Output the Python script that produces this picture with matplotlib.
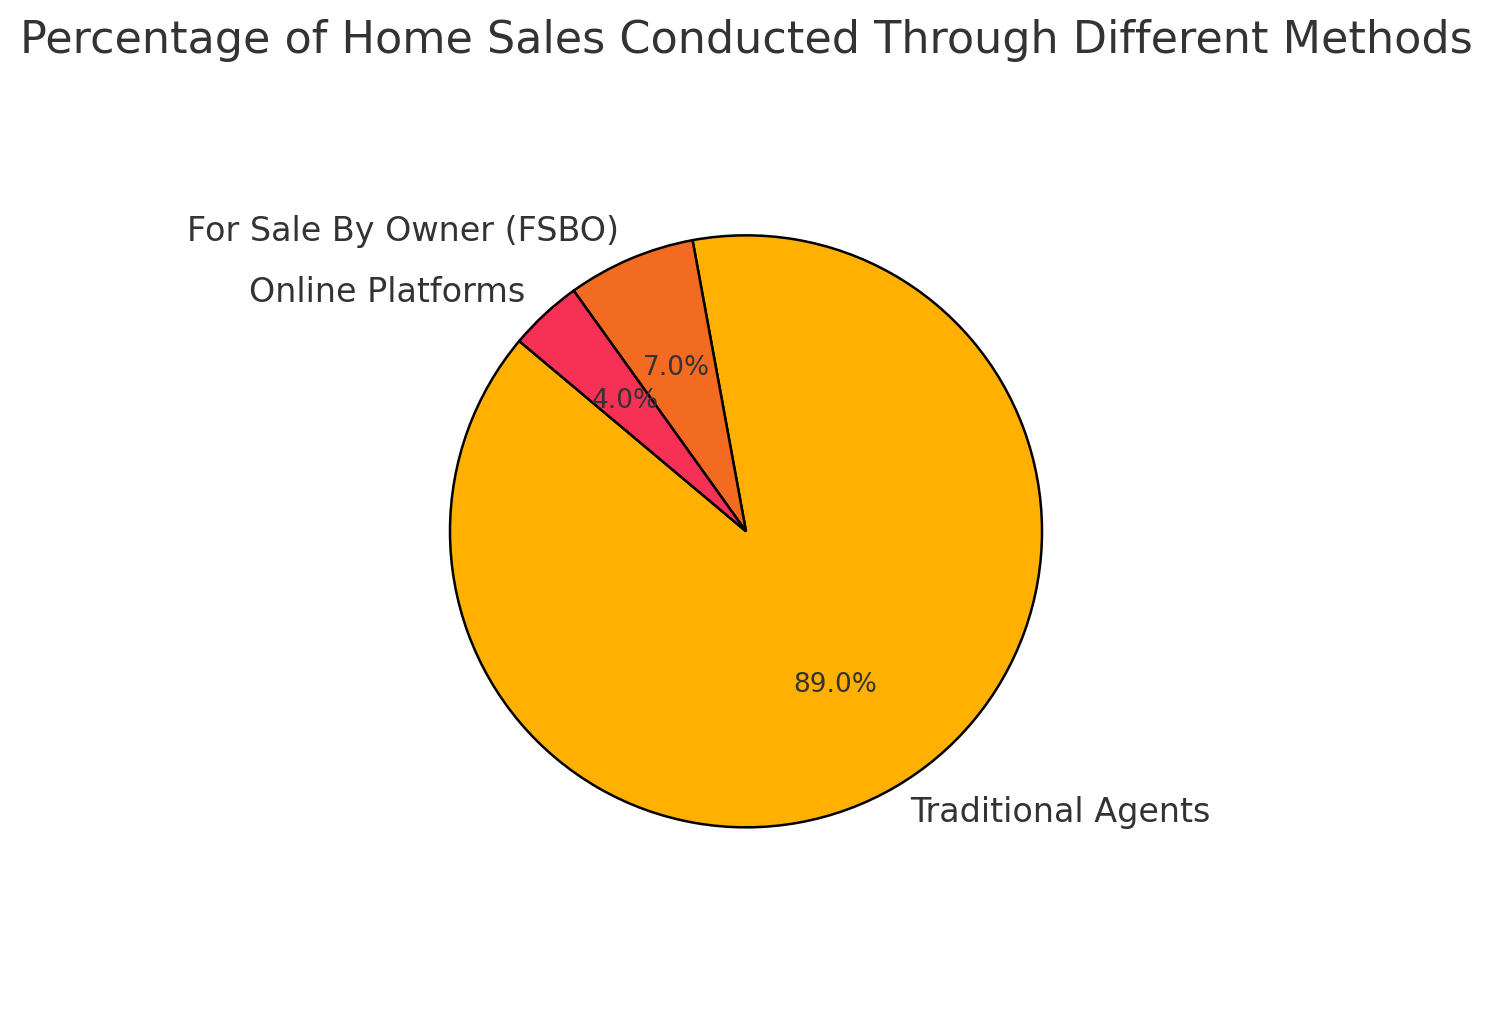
import matplotlib
matplotlib.use("Agg")
import matplotlib.pyplot as plt

labels = ["Traditional Agents", "For Sale By Owner (FSBO)", "Online Platforms"]
values = [89, 7, 4]
colors = ["#FFB000", "#F26B21", "#F73155"]

fig = plt.figure(figsize=(14.92, 10.14), dpi=100)
ax = fig.add_axes([0.252, 0.111, 0.496, 0.73])
wedges, texts, autotexts = ax.pie(values, labels=labels, colors=colors, autopct="%1.1f%%",
       startangle=140, wedgeprops=dict(edgecolor="black", linewidth=1.8),
       textprops=dict(color="#333333", fontsize=24))
for t in autotexts:
    t.set_fontsize(19)
ax.set_aspect("equal")
fig.text(0.5, 1 - 40 / 1014, "Percentage of Home Sales Conducted Through Different Methods",
         fontsize=32, color="#333333", ha="center", va="center")
fig.savefig("out.png", dpi=100)
